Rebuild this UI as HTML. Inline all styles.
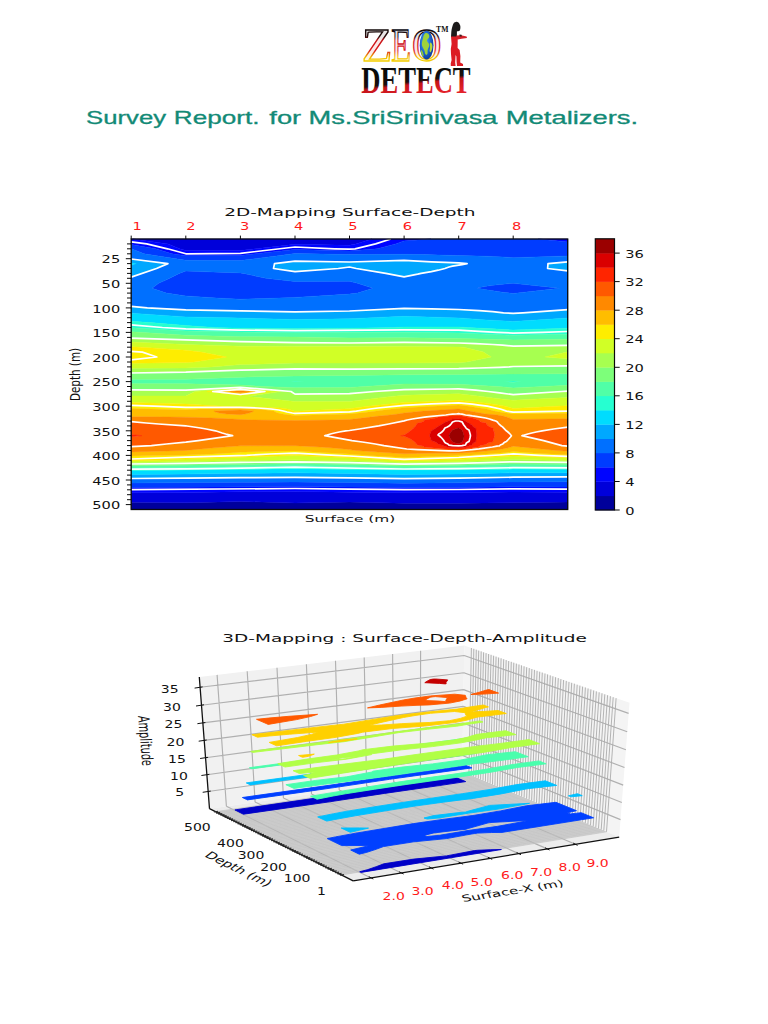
<!DOCTYPE html>
<html><head><meta charset="utf-8"><title>Survey Report</title>
<style>html,body{margin:0;padding:0;background:#fff}body{width:768px;height:1024px;overflow:hidden}svg{display:block}</style>
</head><body>
<svg width="768" height="1024" viewBox="0 0 768 1024">
<rect width="768" height="1024" fill="#fff"/>

<defs>
<linearGradient id="gz" x1="0" y1="29.6" x2="0" y2="61.3" gradientUnits="userSpaceOnUse"><stop offset="0" stop-color="#120a0a"/><stop offset="0.22" stop-color="#2a0c0c"/><stop offset="0.34" stop-color="#c81418"/><stop offset="0.66" stop-color="#dc1c1c"/><stop offset="0.78" stop-color="#e8780c"/><stop offset="0.88" stop-color="#f0c000"/><stop offset="1" stop-color="#f4d000"/></linearGradient>
<linearGradient id="gd" x1="414.5" y1="70" x2="417.5" y2="95" gradientUnits="userSpaceOnUse"><stop offset="0" stop-color="#0a0a0a"/><stop offset="0.44" stop-color="#1a0e0e"/><stop offset="0.56" stop-color="#c41218"/><stop offset="1" stop-color="#e2222a"/></linearGradient>
<radialGradient id="gg" cx="0.42" cy="0.4" r="0.7"><stop offset="0" stop-color="#5ab0f4"/><stop offset="0.55" stop-color="#1a64d0"/><stop offset="1" stop-color="#0a2c80"/></radialGradient>
</defs>
<g font-family="Liberation Serif, DejaVu Serif, serif">
<text y="60.9" font-size="46.5" fill="url(#gz)" fill-opacity="0.10" stroke="url(#gz)" stroke-width="1.3"><tspan x="361.8" textLength="30.6" lengthAdjust="spacingAndGlyphs">Z</tspan><tspan x="391.2" textLength="19.8" lengthAdjust="spacingAndGlyphs">E</tspan><tspan x="411.9" textLength="29.4" lengthAdjust="spacingAndGlyphs">O</tspan></text>
<ellipse cx="426.6" cy="45.2" rx="6.9" ry="14.2" fill="url(#gg)"/>
<path d="M425.2,33.2c1.8,-0.8 3.6,0.4 4,2.4c0.4,1.8 -0.6,3 -1.8,3.8c-1,0.8 -0.4,2 0.6,3c1.2,1.2 1.6,3.2 0.6,5c-0.8,1.4 -1.2,3 -1,4.8c0.2,1.8 -0.8,3.2 -1.8,2.4c-1,-0.8 -0.8,-2.6 -1.4,-4.2c-0.6,-1.8 -2,-3 -2.4,-5c-0.4,-2.2 0.2,-4.2 0.8,-6.2c0.4,-1.6 0.8,-5 2.4,-6z" fill="#9ed23c"/>
<path d="M430.4,42.5c1.2,0.2 2,1.8 2,3.8c0,2 -0.6,4 -1.4,5.4c-0.6,1 -1.4,0.6 -1.4,-0.6c0,-1.6 0.6,-2.8 0.4,-4.4c-0.2,-1.6 -0.4,-4.2 0.4,-4.2z" fill="#b4d83c"/>
<path d="M421.4,50c0.8,0.6 1.6,2.2 2,4c0.4,1.6 0.2,3 -0.4,2.6c-0.8,-0.6 -1.4,-2 -1.8,-3.6c-0.3,-1.4 -0.3,-3 0.2,-3z" fill="#8cc63a"/>
<text x="436" y="32.3" font-size="8.4" font-weight="bold" fill="#111" textLength="12.4" lengthAdjust="spacingAndGlyphs">TM</text>
<text x="361.2" y="93.4" font-size="37" font-weight="bold" fill="url(#gd)" textLength="109.4" lengthAdjust="spacingAndGlyphs">DETECT</text>
</g>
<path fill="#1c1a1a" d="M455.8,21.9C457.6,21.6 459.2,22.6 459.6,24.2C460.7,25.4 460.7,28.6 459.8,30.4C458.8,31.3 457.6,30.9 456.9,31.5L456.9,36.9L451,36.9L451.3,32C451.6,29 452.4,26.4 453,24.6C453.4,23 454.4,22.1 455.8,21.9Z"/>
<path fill="#dc1c24" d="M451,36.6L456.9,36.6L457.7,40L457.6,48L459.6,50L460.4,56L460.2,62.4L463,64L463.1,65.9L457,66L456.6,62L456.4,56.5L455.6,55L455.2,62.4L455.6,65.9L450.8,66L450.7,63.6L451.6,60L451,54L450.8,49L451.6,44Z"/>
<path fill="#d4202a" d="M456.4,35.5L461,35.2L466.6,36.4L467,38L461.5,38.7L456.6,39.8Z"/>
<path fill="#3a1c1c" d="M459.4,34.5l2.2,0.2l0.2,1.8l-2.2,0z"/>

<text y="124.0" font-size="18.1" fill="#128a76" stroke="#128a76" stroke-width="0.3" font-family="Liberation Sans, DejaVu Sans, sans-serif"><tspan x="86.1" textLength="80" lengthAdjust="spacingAndGlyphs">Survey</tspan> <tspan x="173.8" textLength="85.6" lengthAdjust="spacingAndGlyphs">Report.</tspan> <tspan x="269.3" textLength="31.9" lengthAdjust="spacingAndGlyphs">for</tspan> <tspan x="308.5" textLength="189" lengthAdjust="spacingAndGlyphs">Ms.SriSrinivasa</tspan> <tspan x="505.8" textLength="132.3" lengthAdjust="spacingAndGlyphs">Metalizers.</tspan></text>
<g shape-rendering="geometricPrecision">
<path fill="#00009b" stroke="#00009b" stroke-width="0.4" fill-rule="evenodd" d="M131.2,504.6 131.2,502.2 185.8,502.7 240.4,501.5 295,503 349.5,502.1 404.1,503.2 458.7,503.2 567.8,502.1 567.8,509.5 131.2,509.5Z"/>
<path fill="#0000da" stroke="#0000da" stroke-width="0.4" fill-rule="evenodd" d="M132.8,239 372,239 355.7,243.9 349.5,245.3 295,244.3 240.4,250.5 185.8,250.5 179.5,248.8 168.2,243.9ZM131.2,494.7 131.2,492.7 185.8,492.4 240.4,491.8 295,491.4 349.5,492.2 404.1,492.7 458.7,492.7 513.2,492 567.8,492.2 567.8,502.1 458.7,503.2 404.1,503.2 349.5,502.1 295,503 240.4,501.5 185.8,502.7 131.2,502.2Z"/>
<path fill="#0004ff" stroke="#0004ff" stroke-width="0.4" fill-rule="evenodd" d="M131.2,239 132.8,239 168.2,243.9 179.5,248.8 185.8,250.5 240.4,250.5 295,244.3 349.5,245.3 355.7,243.9 372,239 431,239 417.7,240.1 404.1,241 395.6,243.9 377.5,248.8 349.5,250.9 295,249.5 240.4,255.5 185.8,255.7 171.9,253.8 155.5,248.8 131.2,244.5ZM538.2,239 567.8,239 567.8,242ZM131.2,489.8 131.2,487.5 295,486.5 404.1,487.6 458.7,487.4 513.2,486.7 567.8,486.9 567.8,492.2 513.2,492 458.7,492.7 404.1,492.7 349.5,492.2 295,491.4 240.4,491.8 185.8,492.4 131.2,492.7Z"/>
<path fill="#003cff" stroke="#003cff" stroke-width="0.4" fill-rule="evenodd" d="M395.6,243.9 404.1,241 417.7,240.1 431,239 538.2,239 567.8,242 567.8,255.9 513.2,257.7 502.5,256.9 486,256.2 458.7,255.5 438.2,254.9 424.5,254.6 404.1,254.3 349.5,254.6 308.3,253.8 295,253.6 255.1,258.7 240.4,260.6 185.8,260.3 144.1,253.8 131.2,248.8 131.2,244.5 155.5,248.8 171.9,253.8 185.8,255.7 240.4,255.5 295,249.5 349.5,250.9 377.5,248.8ZM179.2,273.4 185.8,271.1 240.4,272.9 243.7,273.4 266.1,278.3 295,281.5 349.5,281.3 357.6,283.3 373.2,288.2 357.6,293.1 349.5,294.1 295,297.4 279,298 240.4,299.2 216.3,298 185.8,295.9 166.3,293.1 152,288.2 158.6,283.3 169.7,278.3ZM476.9,288.2 479.2,287.6 486,286.3 492.8,285.3 502.5,284.2 513.2,283.3 559.9,288.2 513.2,293.5 502.5,292.2 492.8,290.8 486,289.7ZM131.2,484.9 131.2,483 240.4,482.2 295,482 349.5,482.5 404.1,483.2 458.7,482.8 513.2,481.9 567.8,481.7 567.8,486.9 513.2,486.7 458.7,487.4 404.1,487.6 295,486.5 131.2,487.5Z"/>
<path fill="#0070ff" stroke="#0070ff" stroke-width="0.4" fill-rule="evenodd" d="M131.2,248.8 131.5,248.8 144.1,253.8 185.8,260.3 240.4,260.6 255.1,258.7 295,253.6 308.3,253.8 349.5,254.6 404.1,254.3 424.5,254.6 438.2,254.9 458.7,255.5 486,256.2 502.5,256.9 513.2,257.7 567.8,255.9 567.8,261.9 548,263.6 547.6,268.5 567.8,270.8 567.8,309.6 522.9,312.8 513.2,313.3 503.5,312.8 492.8,311.7 479.2,310.6 458.7,309.5 431.4,308.8 404.1,308.3 349.5,311 295,311.9 240.4,310.8 185.8,309.8 147.3,307.9 131.2,306.4 131.2,277.1 156.5,268.5 167.9,263.6 131.2,259ZM185.8,271.1 179.2,273.4 169.7,278.3 158.6,283.3 152,288.2 166.3,293.1 185.8,295.9 216.3,298 240.4,299.2 279,298 295,297.4 349.5,294.1 357.6,293.1 373.2,288.2 357.6,283.3 349.5,281.3 295,281.5 266.1,278.3 243.7,273.4 240.4,272.9ZM295,261.1 274.5,263.6 273.5,268.5 295,271.6 338.3,268.5 349.5,267 356.3,268.5 385.8,273.4 404.1,276.8 417.7,274.2 421.1,273.4 431.4,271.6 438.2,270.2 444.9,268.5 449,267 452.5,266.2 462,264.7 467.1,263.6 458.7,262.8 431.4,261.8 404.1,260.4 349.5,262ZM479.2,287.6 476.9,288.2 479.2,288.6 492.8,290.8 502.5,292.2 513.2,293.5 559.9,288.2 513.2,283.3 502.5,284.2 492.8,285.3 486,286.3ZM131.2,480 131.2,478.5 185.8,478.2 240.4,477.7 295,477.4 349.5,477.8 404.1,478.7 458.7,478.2 513.2,477.2 567.8,476.9 567.8,481.7 513.2,481.9 458.7,482.8 404.1,483.2 349.5,482.5 295,482 240.4,482.2 131.2,483Z"/>
<path fill="#00a8ff" stroke="#00a8ff" stroke-width="0.4" fill-rule="evenodd" d="M131.2,263 131.2,259 167.9,263.6 156.5,268.5 131.2,277.1 131.2,265.3 136.2,263.6ZM274.5,263.6 295,261.1 349.5,262 404.1,260.4 431.4,261.8 458.7,262.8 467.1,263.6 462,264.7 452.5,266.2 449,267 444.9,268.5 438.2,270.2 431.4,271.6 421.1,273.4 417.7,274.2 404.1,276.8 385.8,273.4 356.3,268.5 349.5,267 338.3,268.5 295,271.6 273.5,268.5ZM548,263.6 567.8,261.9 567.8,270.8 547.6,268.5ZM131.2,307.9 131.2,306.4 147.3,307.9 185.8,309.8 240.4,310.8 295,311.9 349.5,311 404.1,308.3 431.4,308.8 458.7,309.5 479.2,310.6 492.8,311.7 503.5,312.8 513.2,313.3 522.9,312.8 567.8,309.6 567.8,318 513.2,321.5 486,319.9 458.7,317.9 404.1,316.3 372.4,317.7 349.5,318.8 295,319.6 228.9,317.7 185.8,316.9 131.2,313.2ZM131.2,475.1 131.2,474.6 185.8,474.1 240.4,473.3 295,472.8 349.5,473.4 404.1,474.6 458.7,474 513.2,472.8 567.8,472.7 567.8,476.9 513.2,477.2 458.7,478.2 404.1,478.7 349.5,477.8 295,477.4 240.4,477.7 185.8,478.2 131.2,478.5Z"/>
<path fill="#00dcfe" stroke="#00dcfe" stroke-width="0.4" fill-rule="evenodd" d="M131.2,263.6 131.2,263 136.2,263.6 131.2,265.3ZM131.2,317.7 131.2,313.2 185.8,316.9 228.9,317.7 295,319.6 349.5,318.8 372.4,317.7 404.1,316.3 458.7,317.9 486,319.9 513.2,321.5 567.8,318 567.8,328.2 513.2,330 492.8,328.8 466.8,327.5 458.7,327 404.1,327.1 394.2,327.5 349.5,328.2 295,328.5 240.4,328.2 214.6,327.5 185.8,325.5 150.4,322.6 131.2,321.3ZM164.5,470.2 185.8,470.1 295,468.7 404.1,470 458.7,469.8 513.2,469.1 567.8,469.2 567.8,472.7 513.2,472.8 458.7,474 404.1,474.6 349.5,473.4 295,472.8 240.4,473.3 185.8,474.1 131.2,474.6 131.2,470.4Z"/>
<path fill="#26ffd1" stroke="#26ffd1" stroke-width="0.4" fill-rule="evenodd" d="M131.2,322.6 131.2,321.3 150.4,322.6 185.8,325.5 214.6,327.5 240.4,328.2 295,328.5 349.5,328.2 394.2,327.5 404.1,327.1 458.7,327 466.8,327.5 492.8,328.8 513.2,330 567.8,328.2 567.8,334.2 513.2,335.3 486,334.3 458.7,333.1 404.1,332.2 349.5,332.2 295,332.7 240.4,332.1 185.8,331 131.2,327.8ZM290.7,381.6 295,381.3 304.8,381.6 295,382ZM503.3,381.6 513.2,380.9 521.5,381.6 513.2,382.2ZM131.2,470.2 131.2,468 185.8,467.6 240.4,466.8 295,465.5 404.1,468 458.7,467.5 513.2,466.3 567.8,466.6 567.8,469.2 513.2,469.1 458.7,469.8 404.1,470 295,468.7 185.8,470.1 131.2,470.4Z"/>
<path fill="#50ffa7" stroke="#50ffa7" stroke-width="0.4" fill-rule="evenodd" d="M131.2,331.8 131.2,327.8 185.8,331 240.4,332.1 295,332.7 349.5,332.2 404.1,332.2 458.7,333.1 486,334.3 513.2,335.3 567.8,334.2 567.8,339.2 513.2,339.9 458.7,338.4 404.1,337.8 349.5,337.9 295,337 240.4,336.7 185.8,335.2ZM254.2,376.7 295,375.9 349.5,375.5 404.1,374.8 458.7,374.5 513.2,373.9 567.8,373.7 567.8,385.3 544,386.5 513.2,387.9 497.4,386.5 458.7,384.3 404.1,384 349.5,387.5 295,387.7 263,386.5 240.4,385.1 185.8,383.8 131.2,383.7 131.2,379.3 185.8,379.3ZM295,381.3 290.7,381.6 295,382 304.8,381.6ZM506.4,381.4 503.3,381.6 513.2,382.2 521.5,381.6 513.2,380.9ZM174.3,465.2 240.4,464.5 295,463.6 349.5,464.5 404.1,465.9 458.7,465.2 486,464.6 513.2,463.9 567.8,464.3 567.8,466.6 513.2,466.3 458.7,467.5 404.1,468 295,465.5 240.4,466.8 185.8,467.6 131.2,468 131.2,465.8Z"/>
<path fill="#7dff7a" stroke="#7dff7a" stroke-width="0.4" fill-rule="evenodd" d="M131.2,332.4 131.2,331.8 185.8,335.2 240.4,336.7 295,337 349.5,337.9 404.1,337.8 458.7,338.4 513.2,339.9 567.8,339.2 567.8,345.3 513.2,346.1 502.5,345.1 492.8,344.5 475.7,343.6 458.7,343 404.1,342.4 349.5,343 295,342.6 240.4,341.6 131.2,338.2ZM509.2,366.9 513.2,366.5 567.8,365.9 567.8,373.7 513.2,373.9 458.7,374.5 404.1,374.8 349.5,375.5 295,375.9 254.2,376.7 185.8,379.3 131.2,379.3 131.2,373 185.8,372.1 191.3,371.8 240.4,370.2 295,368.9 349.5,369.2 458.7,368.6 486,367.8ZM131.2,386.5 131.2,383.7 185.8,383.8 240.4,385.1 263,386.5 295,387.7 349.5,387.5 404.1,384 458.7,384.3 497.4,386.5 513.2,387.9 544,386.5 567.8,385.3 567.8,391.1 561.6,391.5 513.2,394.7 499.6,392.8 488.3,391.5 475.7,390.2 458.7,388.9 449,389 404.1,389.6 374.5,391.5 349.5,393.6 295,394.1 291,391.5 240.4,387.3 185.8,390.1 131.2,389.8ZM131.2,465.2 131.2,464 185.8,463.3 240.4,462.4 295,461.8 349.5,462.6 404.1,464.1 458.7,463.4 486,462.7 513.2,461.8 567.8,462.4 567.8,464.3 513.2,463.9 486,464.6 458.7,465.2 404.1,465.9 349.5,464.5 295,463.6 240.4,464.5 131.2,465.8Z"/>
<path fill="#a7ff50" stroke="#a7ff50" stroke-width="0.4" fill-rule="evenodd" d="M131.2,342.1 131.2,338.2 240.4,341.6 295,342.6 349.5,343 404.1,342.4 458.7,343 475.7,343.6 492.8,344.5 502.5,345.1 513.2,346.1 567.8,345.3 567.8,352.1 567,352.1 544.9,357 567.8,358.8 567.8,365.9 513.2,366.5 509.2,366.9 499.6,367.3 479.2,368 458.7,368.6 349.5,369.2 295,368.9 240.4,370.2 191.3,371.8 185.8,372.1 131.2,373 131.2,368.2 185.8,368 211.6,366.9 240.4,364.6 295,363 404.1,363 458.7,362.7 466.6,362 491.3,357 486,353.8 483.5,352.1 463.8,347.2 458.7,346.9 404.1,346.6 295,346.6 240.4,346.2 185.8,344.5ZM131.2,391.5 131.2,389.8 185.8,390.1 240.4,387.3 291,391.5 295,394.1 349.5,393.6 374.5,391.5 404.1,389.6 458.7,388.9 472.3,389.9 486,391.2 499.6,392.8 513.2,394.7 561.6,391.5 567.8,391.1 567.8,397.5 513.2,400.3 497,398.5 475.7,395.7 458.7,393.7 404.1,395.3 391.3,396.4 349.5,401.4 295,401.5 247.4,396.4 280.5,391.5 240.4,388.1 195.1,391.5 185.8,396 131.2,396ZM255.4,460.3 295,459.7 315.8,460.3 349.5,460.7 404.1,462.4 458.7,461.7 497.4,460.3 513.2,459.3 553.7,460.3 567.8,460.5 567.8,462.4 513.2,461.8 486,462.7 458.7,463.4 404.1,464.1 349.5,462.6 295,461.8 240.4,462.4 185.8,463.3 131.2,464 131.2,462.4 185.8,461.5 240.4,460.4Z"/>
<path fill="#d1ff26" stroke="#d1ff26" stroke-width="0.4" fill-rule="evenodd" d="M131.2,342.3 131.2,342.1 185.8,344.5 240.4,346.2 295,346.6 404.1,346.6 458.7,346.9 463.8,347.2 483.5,352.1 486,353.8 491.3,357 466.6,362 458.7,362.7 404.1,363 295,363 240.4,364.6 211.6,366.9 185.8,368 131.2,368.2 131.2,363.3 185.8,362.6 194,362 226.7,357 201,352.1 185.8,350.2 141.4,347.2 131.2,346.8ZM567,352.1 567.8,352.1 567.8,358.8 544.9,357ZM195.1,391.5 240.4,388.1 280.5,391.5 247.4,396.4 295,401.5 349.5,401.4 391.3,396.4 404.1,395.3 458.7,393.7 475.7,395.7 497,398.5 513.2,400.3 567.8,397.5 567.8,405.7 556.8,406.2 513.2,408.6 511.4,408 505.2,406.2 497,404.7 486,403.2 475.7,402.1 466.3,401.3 458.7,400.3 439.6,401.3 404.1,402.6 368.5,406.2 354.8,408 349.5,408.8 320.8,410 302.1,411.1 295,411.3 294,411.1 291.2,410 287.3,409 280.3,408 240.4,406.4 223.4,406.2 185.8,404.1 131.2,402.6 131.2,396 185.8,396ZM240.4,389 206.8,391.5 240.4,395.2 270.1,391.5ZM291.8,455.4 295,455.2 308.6,456 349.5,457.7 392.4,460.3 404.1,460.7 430.9,460.3 458.7,459.5 486,457.6 513.2,456 567.8,457.8 567.8,460.5 553.7,460.3 513.2,459.3 497.4,460.3 458.7,461.7 404.1,462.4 349.5,460.7 315.8,460.3 295,459.7 255.4,460.3 240.4,460.4 185.8,461.5 131.2,462.4 131.2,460.7 156.3,460.3 185.8,459.1 278.2,456Z"/>
<path fill="#feed00" stroke="#feed00" stroke-width="0.4" fill-rule="evenodd" d="M131.2,347.2 131.2,346.8 141.4,347.2 185.8,350.2 201,352.1 226.7,357 194,362 185.8,362.6 131.2,363.3ZM206.8,391.5 240.4,389 270.1,391.5 240.4,395.2ZM240.4,389.9 218.6,391.5 240.4,393.9 259.7,391.5ZM439.6,401.3 458.7,400.3 466.3,401.3 475.7,402.1 486,403.2 497,404.7 505.2,406.2 511.4,408 513.2,408.6 556.8,406.2 567.8,405.7 567.8,413.2 513.2,414.1 502.5,412.5 494.2,411.1 486.7,409 479.9,408 469.1,406.2 458.7,405 404.1,407.7 391.7,409 368.5,412 359.2,413 349.5,413.9 295,415.4 290.1,415 282.3,414 278,413 275.4,412 273.8,411.1 265.9,410 254.9,409 240.4,408.2 199,409 185.8,409.7 150.2,409 131.2,408.5 131.2,402.6 185.8,404.1 223.4,406.2 240.4,406.4 280.3,408 287.3,409 291.2,410 294,411.1 295,411.3 302.1,411.1 320.8,410 349.5,408.8 354.8,408 368.5,406.2 404.1,402.6ZM286.6,451 295,450.9 349.5,454.1 367.9,455.4 404.1,457.6 447.1,456 455.5,455.8 458.7,455.5 462,455.4 475.7,454.7 486.7,454 497,453.2 506.4,452.4 513.2,451.5 533.9,453 551,454 567.8,454.8 567.8,457.8 513.2,456 486,457.6 458.7,459.5 430.9,460.3 404.1,460.7 392.4,460.3 349.5,457.7 308.6,456 295,455.2 278.2,456 185.8,459.1 156.3,460.3 131.2,460.7 131.2,456.1 185.8,455.1 212.2,454 229.6,453 240.4,452.2 245,452Z"/>
<path fill="#ffbd00" stroke="#ffbd00" stroke-width="0.4" fill-rule="evenodd" d="M218.6,391.5 240.4,389.9 259.7,391.5 240.4,393.9ZM240.4,390.7 230.4,391.5 240.4,392.6 249.3,391.5ZM433,406.2 458.7,405 469.1,406.2 479.9,408 486.7,409 494.2,411.1 502.5,412.5 513.2,414.1 567.8,413.2 567.8,418.7 513.2,419.6 509.3,418 503.5,416.1 497.3,415 492.8,414.5 486,414 474.6,412 462,409.5 458.7,408.9 423.4,411.1 413.8,412 404.1,413 397.9,414 390,415 379.1,416.1 349.5,419.6 332.6,420 295,420.6 253.8,420 240.4,419.5 232.7,419 211.5,418 185.8,417.2 168.3,417 131.2,416.8 131.2,408.5 150.2,409 185.8,409.7 199,409 240.4,408.2 254.9,409 265.9,410 273.8,411.1 275.4,412 278,413 282.3,414 290.1,415 295,415.4 349.5,413.9 359.2,413 368.5,412 391.7,409 404.1,407.7ZM240.4,410 213.9,411.1 215.7,412 219.1,413 226.6,414 240.4,414.7 245,414 249.3,413 251.9,412 253.5,411.1ZM237.2,446 240.4,445.8 295,445.7 319.6,447 333.2,448 344,449 349.5,449.6 355.6,450.5 404.1,453.8 417.7,453.4 431.4,453.3 445,453.2 455.5,453.3 458.7,452.9 462,453 479.2,451.7 499.6,449.5 502.5,448.9 507.4,448 513.2,446.2 556.4,450.5 567.8,451.2 567.8,454.8 551,454 533.9,453 513.2,451.5 506.4,452.4 497,453.2 486.7,454 475.7,454.7 462,455.4 458.7,455.5 455.5,455.8 447.1,456 404.1,457.6 367.9,455.4 349.5,454.1 295,450.9 286.6,451 245,452 240.4,452.2 229.6,453 212.2,454 185.8,455.1 131.2,456.1 131.2,451.9 167.5,451 185.8,450.4 211.7,448Z"/>
<path fill="#ff8900" stroke="#ff8900" stroke-width="0.4" fill-rule="evenodd" d="M230.4,391.5 240.4,390.7 249.3,391.5 240.4,392.6ZM457.2,409 459.2,409 474.6,412 486,414 492.8,414.5 497.3,415 503.2,416 506.4,417 509.3,418 513.2,419.6 567.8,418.7 567.8,427.2 553.6,429 542.2,430.8 536.2,432 531.8,433 527.8,434 521.9,435.7 543.6,440.6 561.9,445.6 567.8,446.2 567.8,451.2 556.4,450.5 513.2,446.2 507.4,448 502.5,448.9 499.6,449.5 479.2,451.7 462,453 458.7,452.9 455.5,453.3 445,453.2 431.4,453.3 417.7,453.4 404.1,453.8 355.6,450.5 349.5,449.6 344,449 333.2,448 319.6,447 295,445.7 240.4,445.8 211.7,448 185.8,450.4 167.5,451 131.2,451.9 131.2,446.7 151.4,445.6 166.5,444 185.8,442.2 198.2,440.6 232.6,435.7 225.7,434 222.2,433 215.4,430.8 206.2,429 200.5,428 187,426 185.8,425.8 158.6,424 146.2,423 131.2,421.6 131.2,416.8 168.3,417 185.8,417.2 211.5,418 232.7,419 240.4,419.5 253.8,420 295,420.6 332.6,420 349.5,419.6 379.1,416.1 390,415 397.9,414 404.1,413 413.8,412 423.4,411.1ZM458.7,413.7 456.3,414 452.5,414.2 449,414.5 445.8,415 431.4,416.3 424.5,417.2 412.2,419 407.2,420 404.1,420.9 388.7,424 378.7,425.9 359.4,429 349.5,430.5 345.8,430.8 339.2,432 334.6,433 330.5,434 324.7,435.7 352,440.6 362.3,442 369.1,443 375.3,444 384,445.6 406.8,449 417.7,449.6 424.5,449.9 449,450.8 458.7,451 475.7,449.4 479.2,448.9 492.4,447 497,446.1 498.3,446 499.6,445.8 500.3,445 502.8,444 503.6,443 505.1,442 506.4,441.4 506.9,441 510.5,437 511.3,436 511.4,435.7 510,434 509,433 507.9,432 506.3,430.8 502.5,426.9 501.2,426 499.6,424.7 498.1,423 497.4,422 497,421.7 495.8,421 492.8,420.1 489.6,419 485.7,418 475.7,416.3 472.3,415.9 469,415.3 465.5,415 462,414.2 460.1,414ZM239.8,410 240.6,410 253.5,411.1 251.9,412 249.3,413 245,414 240.4,414.7 226.6,414 219.1,413 215.7,412 213.9,411.1Z"/>
<path fill="#ff5900" stroke="#ff5900" stroke-width="0.4" fill-rule="evenodd" d="M456.3,414 458.7,413.7 460.1,414 462,414.2 465.5,415 469,415.3 472.3,415.9 475.7,416.3 485.7,418 489.6,419 492.8,420.1 495.8,421 497,421.7 497.4,422 498.1,423 499.6,424.7 501.2,426 502.5,426.9 506.3,430.8 507.9,432 509,433 510,434 511.4,435.7 511.3,436 510.5,437 506.9,441 506.4,441.4 505.1,442 503.6,443 502.8,444 500.3,445 499.6,445.8 498.3,446 497,446.1 492.4,447 479.2,448.9 472.3,449.7 469,450 458.7,451 449,450.8 424.5,449.9 417.7,449.6 406.8,449 384,445.6 375.3,444 369.1,443 362.3,442 352,440.6 324.7,435.7 330.5,434 334.6,433 339.2,432 345.8,430.8 349.5,430.5 359.4,429 378.7,425.9 388.7,424 404.1,420.9 407.2,420 412.2,419 424.5,417.2 431.4,416.3 445.8,415 449,414.5 452.5,414.2ZM452.5,415.9 449,416 445,416.7 438.2,417 435.9,418 430.6,419 424.5,420 424,421 422.6,422 417.6,423 415.5,425.9 413.6,428 411.4,430 407.4,433 404.1,435 400.7,435.7 404.1,436.3 406.2,437 408.5,438 410.5,439 413,440.6 415.6,443 417.4,445 417.7,445.2 422.9,446 424.3,447 424.5,447 433.9,448 438.2,448.2 445,448.9 449,449 465.5,449 469,448.3 472,448 475.7,447.2 478,447 479.2,446.4 480.3,445.6 486,444.5 487.8,443 492.8,441.8 493.7,439 494.6,435 494.5,434 494.3,433 493.5,430 492.8,427.9 490.2,427 488.4,426 487.3,425 486.5,424 486,423 480.9,422 478.6,420 475.9,419 472.4,418 469,417.6 462,416 458.7,415.4ZM131.2,422 131.2,421.6 146.2,423 158.6,424 185.8,425.8 187,426 200.5,428 206.2,429 215.4,430.8 222.2,433 225.7,434 232.6,435.7 198.2,440.6 185.8,442.2 166.5,444 151.4,445.6 131.2,446.7 131.2,436.7 141.9,435.7 131.2,434.4ZM561,428 567.8,427.2 567.8,446.2 561.9,445.6 543.6,440.6 521.9,435.7 527.8,434 531.8,433 541.1,431 553.6,429Z"/>
<path fill="#ff2500" stroke="#ff2500" stroke-width="0.4" fill-rule="evenodd" d="M449.1,416 452.5,415.9 458.7,415.4 462,416 469,417.6 472.4,418 475.7,418.9 478.6,420 480.9,422 486,423 486.5,424 487.3,425 488.4,426 490.2,427 492.8,427.9 492.9,428 494.3,433 494.5,434 494.6,435 493.7,439 492.8,441.8 487.8,443 486,444.5 480.3,445.6 479.2,446.4 478,447 475.7,447.2 472,448 469,448.3 465.5,449 449,449 445,448.9 438.2,448.2 433.9,448 424.5,447 424.3,447 422.9,446 417.7,445.2 417.4,445 415.6,443 413.5,441 412.1,440 410.5,439 408.5,438 406.2,437 404.1,436.3 400.7,435.7 404.1,435 407.4,433 411.4,430 413.6,428 415.5,425.9 417.6,423 422.6,422 424,421 424.5,420 430.6,419 435.9,418 438.2,417 445,416.7ZM452.5,419 449,420.7 445,422.3 442.3,424 438.8,426 434.4,429 431.4,430.7 430,434 429.6,435.7 431.4,440.6 435.5,442 437.1,443 438.1,444 441.7,445 444.2,446 447.4,447 449,447.4 462,447.4 465.5,447 468.9,446 469.6,445.6 471.9,445 472.3,444.6 472.5,444 473.3,443 475.7,442.1 476.7,435 476.5,433 475.7,427.9 473.6,427 472.6,426 472.1,425 470.2,424 469.2,423 466.8,422 465.5,421 462,419.3 458.7,418.8 455.5,418.7ZM131.2,435 131.2,434.4 141.9,435.7 131.2,436.7Z"/>
<path fill="#da0000" stroke="#da0000" stroke-width="0.4" fill-rule="evenodd" d="M452.5,419 455.5,418.7 458.7,418.8 462,419.3 465.5,421 466.8,422 469.2,423 470.2,424 472.1,425 472.6,426 473.6,427 475.7,427.9 476.5,433 476.7,435 475.7,442.1 473.3,443 472.5,444 472.3,444.6 471.9,445 469.6,445.6 468.9,446 465.5,447 462,447.4 449,447.4 447.4,447 444.2,446 441.7,445 438.1,444 437.1,443 435.5,442 431.4,440.6 429.6,435.7 430,434 431.4,430.7 434.4,429 438.8,426 442.3,424 445,422.3 449,420.7ZM458.7,427.9 455.5,428.7 452.5,430.1 450.9,432 450.2,433 449.1,435 449,435.7 449.6,437 450.5,439 451.6,440.6 452.5,441.8 455.7,443 458.7,443.5 460.2,443 462,442.3 462.2,442 462.9,440.6 463.5,439 464,437 464.1,436 463.3,433 462.9,432 462,430.1 460.7,429Z"/>
<path fill="#9b0000" stroke="#9b0000" stroke-width="0.4" fill-rule="evenodd" d="M458.1,428 458.7,427.9 460.7,429 462,430.1 462.9,432 463.3,433 464.1,436 464,437 463.5,439 462.9,440.6 462.2,442 462,442.3 460.2,443 458.7,443.5 455.7,443 452.5,441.8 451.6,440.6 450.5,439 449.6,437 449,435.7 449.1,435 450.2,433 450.9,432 452.5,430.1 455.5,428.7Z"/>
<path fill="none" stroke="#fff" stroke-width="1.7" stroke-linejoin="round" d="M131.2,241.8 146.7,243.9 167.5,248.8 185.8,253.8 240.4,253.3 295,247 334.6,248.8 349.5,249.2 355,248.8 375.6,243.9 390.8,239M567.8,489.2 513.2,488.9 458.7,489.5 404.1,489.7 349.5,489.2 295,488.5 131.2,489.6M131.2,259 167.9,263.6 156.5,268.5 131.2,277.1M274.5,263.6 295,261.1 349.5,262 404.1,260.4 431.4,261.8 458.7,262.8 467.1,263.6 462,264.7 452.5,266.2 449,267 444.9,268.5 438.2,270.2 431.4,271.6 421.1,273.4 417.7,274.2 404.1,276.8 385.8,273.4 356.3,268.5 349.5,267 338.3,268.5 295,271.6 273.5,268.5ZM567.8,270.8 547.6,268.5 548,263.6 567.8,261.9M131.2,306.4 147.3,307.9 185.8,309.8 240.4,310.8 295,311.9 349.5,311 404.1,308.3 431.4,308.8 458.7,309.5 479.2,310.6 492.8,311.7 503.5,312.8 513.2,313.3 522.9,312.8 567.8,309.6M567.8,476.9 513.2,477.2 458.7,478.2 404.1,478.7 349.5,477.8 295,477.4 240.4,477.7 185.8,478.2 131.2,478.5M131.2,324.9 162.4,327.5 185.8,328.9 240.4,330.1 295,330.6 404.1,329.8 458.7,330.1 479.2,331.3 496.9,332.4 513.2,333.1 542.4,332.4 567.8,331.5M567.8,467.9 513.2,467.7 458.7,468.7 404.1,469 295,467.1 240.4,468.1 185.8,468.8 131.2,469.2M131.2,338.2 240.4,341.6 295,342.6 349.5,343 404.1,342.4 458.7,343 475.7,343.6 492.8,344.5 502.5,345.1 513.2,346.1 567.8,345.3M567.8,365.9 513.2,366.5 509.2,366.9 499.6,367.3 479.2,368 458.7,368.6 349.5,369.2 295,368.9 240.4,370.2 191.3,371.8 185.8,372.1 131.2,373M131.2,389.8 185.8,390.1 240.4,387.3 291,391.5 295,394.1 349.5,393.6 374.5,391.5 404.1,389.6 449,389 458.7,388.9 475.7,390.2 488.3,391.5 499.6,392.8 513.2,394.7 561.6,391.5 567.8,391.1M567.8,462.4 513.2,461.8 486,462.7 458.7,463.4 404.1,464.1 349.5,462.6 295,461.8 240.4,462.4 185.8,463.3 131.2,464M131.2,351.4 142.4,352.1 156.8,357 131.2,359.9M212.7,391.5 240.4,389.4 264.9,391.5 240.4,394.5ZM131.2,405.3 154,406.2 185.8,407.3 240.4,407.3 257.7,408 271.1,409 278.6,410 283.3,411 287.1,412 292.4,413 295,413.4 349.5,411.9 356.3,411.1 363.2,410 370.1,409 377.9,408 404.1,405.3 431.4,403.9 458.7,402.9 472.3,404.2 479.2,405.1 487.2,406.2 500.4,409 506.5,411.1 513.2,412.2 567.8,411.1M567.8,456.4 539.6,455.4 513.2,453.9 499.1,455 475.7,456.4 458.7,457.5 404.1,459.3 349.5,456 335.4,455.4 295,453.1 270.1,454 252.2,455 246.6,455.4 185.8,457.1 131.2,459M456.3,414 458.7,413.7 460.1,414 462,414.2 465.5,415 469,415.3 472.3,415.9 475.7,416.3 485.7,418 489.6,419 492.8,420.1 495.8,421 497,421.7 497.4,422 498.1,423 499.6,424.7 501.2,426 502.5,426.9 506.3,430.8 507.9,432 509,433 510,434 511.4,435.7 511.3,436 510.5,437 506.9,441 506.4,441.4 505.1,442 503.6,443 502.8,444 500.3,445 499.6,445.8 498.3,446 497,446.1 492.4,447 479.2,448.9 472.3,449.7 469,450 458.7,451 449,450.8 424.5,449.9 417.7,449.6 406.8,449 384,445.6 375.3,444 369.1,443 362.3,442 352,440.6 324.7,435.7 330.5,434 334.6,433 339.2,432 345.8,430.8 349.5,430.5 359.4,429 378.7,425.9 388.7,424 404.1,420.9 407.2,420 412.2,419 424.5,417.2 431.4,416.3 445.8,415 449,414.5 452.5,414.2ZM131.2,421.6 146.2,423 158.6,424 185.8,425.8 187,426 200.5,428 206.2,429 215.4,430.8 222.2,433 225.7,434 232.6,435.7 198.2,440.6 185.8,442.2 166.5,444 151.4,445.6 131.2,446.7M567.8,446.2 561.9,445.6 543.6,440.6 521.9,435.7 527.8,434 531.8,433 536.2,432 542.2,430.8 553.6,429 567.8,427.2M452.5,422 455.5,421 458.7,421 462,421.9 462.1,422 463.8,425 465.4,427 465.5,427.3 466,428 467,429 469,430 470.4,435 470.4,436 470,438 469.2,441 469,441.4 467.9,442 466.4,443 465.9,444 465.5,445 462,445.7 458.7,445.8 452.5,445.7 449,445.1 447.9,444 445.7,443 445,442.5 444.6,442 443.4,440 441.7,438 440.7,437 439.5,436 438,435 438.8,434 440.5,433 441.8,432 442.9,431 443.7,430 444.9,428 447.3,427 449,426 450.2,425 451.1,424Z"/>
</g>
<rect x="131.2" y="239" width="436.5" height="270.5" fill="none" stroke="#0a0a0a" stroke-width="1.3"/>
<path d="M131.2,239V235.6M185.8,239V235.6M240.4,239V235.6M295,239V235.6M349.5,239V235.6M404.1,239V235.6M458.7,239V235.6M513.2,239V235.6M131.2,243.9H127M131.2,248.8H127M131.2,253.8H127M131.2,258.7H125.8M131.2,263.6H127M131.2,268.5H127M131.2,273.4H127M131.2,278.3H127M131.2,283.3H125.8M131.2,288.2H127M131.2,293.1H127M131.2,298H127M131.2,302.9H127M131.2,307.9H125.8M131.2,312.8H127M131.2,317.7H127M131.2,322.6H127M131.2,327.5H127M131.2,332.4H125.8M131.2,337.4H127M131.2,342.3H127M131.2,347.2H127M131.2,352.1H127M131.2,357H125.8M131.2,362H127M131.2,366.9H127M131.2,371.8H127M131.2,376.7H127M131.2,381.6H125.8M131.2,386.5H127M131.2,391.5H127M131.2,396.4H127M131.2,401.3H127M131.2,406.2H125.8M131.2,411.1H127M131.2,416.1H127M131.2,421H127M131.2,425.9H127M131.2,430.8H125.8M131.2,435.7H127M131.2,440.6H127M131.2,445.6H127M131.2,450.5H127M131.2,455.4H125.8M131.2,460.3H127M131.2,465.2H127M131.2,470.2H127M131.2,475.1H127M131.2,480H125.8M131.2,484.9H127M131.2,489.8H127M131.2,494.7H127M131.2,499.7H127M131.2,504.6H125.8" stroke="#0a0a0a" stroke-width="1" fill="none"/>
<text x="132.5" y="229.7" font-size="9.6" fill="#ff1a1a" font-family="DejaVu Sans, Liberation Sans, sans-serif" textLength="9.3" lengthAdjust="spacingAndGlyphs" >1</text>
<text x="186.3" y="229.7" font-size="9.6" fill="#ff1a1a" font-family="DejaVu Sans, Liberation Sans, sans-serif" textLength="9.3" lengthAdjust="spacingAndGlyphs" >2</text>
<text x="240" y="229.7" font-size="9.6" fill="#ff1a1a" font-family="DejaVu Sans, Liberation Sans, sans-serif" textLength="9.3" lengthAdjust="spacingAndGlyphs" >3</text>
<text x="294.1" y="229.7" font-size="9.6" fill="#ff1a1a" font-family="DejaVu Sans, Liberation Sans, sans-serif" textLength="9.3" lengthAdjust="spacingAndGlyphs" >4</text>
<text x="348.2" y="229.7" font-size="9.6" fill="#ff1a1a" font-family="DejaVu Sans, Liberation Sans, sans-serif" textLength="9.3" lengthAdjust="spacingAndGlyphs" >5</text>
<text x="402.7" y="229.7" font-size="9.6" fill="#ff1a1a" font-family="DejaVu Sans, Liberation Sans, sans-serif" textLength="9.3" lengthAdjust="spacingAndGlyphs" >6</text>
<text x="457.4" y="229.7" font-size="9.6" fill="#ff1a1a" font-family="DejaVu Sans, Liberation Sans, sans-serif" textLength="9.3" lengthAdjust="spacingAndGlyphs" >7</text>
<text x="512.1" y="229.7" font-size="9.6" fill="#ff1a1a" font-family="DejaVu Sans, Liberation Sans, sans-serif" textLength="9.3" lengthAdjust="spacingAndGlyphs" >8</text>
<text x="101.6" y="263.4" font-size="9.6" fill="#111" font-family="DejaVu Sans, Liberation Sans, sans-serif" textLength="18.6" lengthAdjust="spacingAndGlyphs" >25</text>
<text x="101.6" y="288" font-size="9.6" fill="#111" font-family="DejaVu Sans, Liberation Sans, sans-serif" textLength="18.6" lengthAdjust="spacingAndGlyphs" >50</text>
<text x="92.3" y="312.6" font-size="9.6" fill="#111" font-family="DejaVu Sans, Liberation Sans, sans-serif" textLength="27.9" lengthAdjust="spacingAndGlyphs" >100</text>
<text x="92.3" y="337.1" font-size="9.6" fill="#111" font-family="DejaVu Sans, Liberation Sans, sans-serif" textLength="27.9" lengthAdjust="spacingAndGlyphs" >150</text>
<text x="92.3" y="361.7" font-size="9.6" fill="#111" font-family="DejaVu Sans, Liberation Sans, sans-serif" textLength="27.9" lengthAdjust="spacingAndGlyphs" >200</text>
<text x="92.3" y="386.3" font-size="9.6" fill="#111" font-family="DejaVu Sans, Liberation Sans, sans-serif" textLength="27.9" lengthAdjust="spacingAndGlyphs" >250</text>
<text x="92.3" y="410.9" font-size="9.6" fill="#111" font-family="DejaVu Sans, Liberation Sans, sans-serif" textLength="27.9" lengthAdjust="spacingAndGlyphs" >300</text>
<text x="92.3" y="435.5" font-size="9.6" fill="#111" font-family="DejaVu Sans, Liberation Sans, sans-serif" textLength="27.9" lengthAdjust="spacingAndGlyphs" >350</text>
<text x="92.3" y="460.1" font-size="9.6" fill="#111" font-family="DejaVu Sans, Liberation Sans, sans-serif" textLength="27.9" lengthAdjust="spacingAndGlyphs" >400</text>
<text x="92.3" y="484.7" font-size="9.6" fill="#111" font-family="DejaVu Sans, Liberation Sans, sans-serif" textLength="27.9" lengthAdjust="spacingAndGlyphs" >450</text>
<text x="92.3" y="509.3" font-size="9.6" fill="#111" font-family="DejaVu Sans, Liberation Sans, sans-serif" textLength="27.9" lengthAdjust="spacingAndGlyphs" >500</text>
<text x="224.2" y="215.7" font-size="11.3" fill="#111" font-family="DejaVu Sans, Liberation Sans, sans-serif" textLength="251.4" lengthAdjust="spacingAndGlyphs" >2D-Mapping Surface-Depth</text>
<text x="304.8" y="521.5" font-size="9.4" fill="#111" font-family="DejaVu Sans, Liberation Sans, sans-serif" textLength="90.4" lengthAdjust="spacingAndGlyphs" >Surface (m)</text>
<text transform="translate(80.2,374.5) scale(1.3,1) rotate(-90)" text-anchor="middle" font-size="10.4" fill="#111" font-family="DejaVu Sans, Liberation Sans, sans-serif">Depth (m)</text>
<rect x="595.3" y="495.7" width="19.2" height="14.6" fill="#00009b"/>
<rect x="595.3" y="481.5" width="19.2" height="14.6" fill="#0000da"/>
<rect x="595.3" y="467.2" width="19.2" height="14.6" fill="#0004ff"/>
<rect x="595.3" y="452.9" width="19.2" height="14.6" fill="#003cff"/>
<rect x="595.3" y="438.6" width="19.2" height="14.6" fill="#0070ff"/>
<rect x="595.3" y="424.4" width="19.2" height="14.6" fill="#00a8ff"/>
<rect x="595.3" y="410.1" width="19.2" height="14.6" fill="#00dcfe"/>
<rect x="595.3" y="395.8" width="19.2" height="14.6" fill="#26ffd1"/>
<rect x="595.3" y="381.5" width="19.2" height="14.6" fill="#50ffa7"/>
<rect x="595.3" y="367.3" width="19.2" height="14.6" fill="#7dff7a"/>
<rect x="595.3" y="353" width="19.2" height="14.6" fill="#a7ff50"/>
<rect x="595.3" y="338.7" width="19.2" height="14.6" fill="#d1ff26"/>
<rect x="595.3" y="324.4" width="19.2" height="14.6" fill="#feed00"/>
<rect x="595.3" y="310.2" width="19.2" height="14.6" fill="#ffbd00"/>
<rect x="595.3" y="295.9" width="19.2" height="14.6" fill="#ff8900"/>
<rect x="595.3" y="281.6" width="19.2" height="14.6" fill="#ff5900"/>
<rect x="595.3" y="267.3" width="19.2" height="14.6" fill="#ff2500"/>
<rect x="595.3" y="253.1" width="19.2" height="14.6" fill="#da0000"/>
<rect x="595.3" y="238.8" width="19.2" height="14.6" fill="#9b0000"/>
<rect x="595.3" y="238.8" width="19.2" height="271.2" fill="none" stroke="#0a0a0a" stroke-width="1.2"/>
<text x="625.2" y="514.6" font-size="9.6" fill="#111" font-family="DejaVu Sans, Liberation Sans, sans-serif" textLength="9.3" lengthAdjust="spacingAndGlyphs" >0</text>
<text x="625.2" y="486.1" font-size="9.6" fill="#111" font-family="DejaVu Sans, Liberation Sans, sans-serif" textLength="9.3" lengthAdjust="spacingAndGlyphs" >4</text>
<text x="625.2" y="457.5" font-size="9.6" fill="#111" font-family="DejaVu Sans, Liberation Sans, sans-serif" textLength="9.3" lengthAdjust="spacingAndGlyphs" >8</text>
<text x="625.2" y="429" font-size="9.6" fill="#111" font-family="DejaVu Sans, Liberation Sans, sans-serif" textLength="18.6" lengthAdjust="spacingAndGlyphs" >12</text>
<text x="625.2" y="400.4" font-size="9.6" fill="#111" font-family="DejaVu Sans, Liberation Sans, sans-serif" textLength="18.6" lengthAdjust="spacingAndGlyphs" >16</text>
<text x="625.2" y="371.9" font-size="9.6" fill="#111" font-family="DejaVu Sans, Liberation Sans, sans-serif" textLength="18.6" lengthAdjust="spacingAndGlyphs" >20</text>
<text x="625.2" y="343.3" font-size="9.6" fill="#111" font-family="DejaVu Sans, Liberation Sans, sans-serif" textLength="18.6" lengthAdjust="spacingAndGlyphs" >24</text>
<text x="625.2" y="314.8" font-size="9.6" fill="#111" font-family="DejaVu Sans, Liberation Sans, sans-serif" textLength="18.6" lengthAdjust="spacingAndGlyphs" >28</text>
<text x="625.2" y="286.2" font-size="9.6" fill="#111" font-family="DejaVu Sans, Liberation Sans, sans-serif" textLength="18.6" lengthAdjust="spacingAndGlyphs" >32</text>
<text x="625.2" y="257.7" font-size="9.6" fill="#111" font-family="DejaVu Sans, Liberation Sans, sans-serif" textLength="18.6" lengthAdjust="spacingAndGlyphs" >36</text>
<path d="M614.5,510h5.2M614.5,481.5h5.2M614.5,452.9h5.2M614.5,424.4h5.2M614.5,395.8h5.2M614.5,367.3h5.2M614.5,338.7h5.2M614.5,310.2h5.2M614.5,281.6h5.2M614.5,253.1h5.2" stroke="#0a0a0a" stroke-width="1" fill="none"/>
<polygon points="199.3,677 209.5,808.7 462.2,772 464.3,645.6" fill="#f1f1f1"/>
<polygon points="464.3,645.6 462.2,772 619.2,837.1 629.5,702.8" fill="#f4f4f4"/>
<polygon points="209.5,808.7 353.2,880.8 619.2,837.1 462.2,772" fill="#ececec"/>
<polygon points="341.6,874.9 606.5,831.8 468.9,774.8 215.6,811.7" fill="#cfcfcf"/>
<path d="M371.1,877.9L226.4,806.2M226.4,806.2L217.1,674.9M401.4,872.9L255.1,802.1M255.1,802.1L247.2,671.3M431.3,868L283.4,797.9M283.4,797.9L277,667.8M460.8,863.1L311.5,793.9M311.5,793.9L306.4,664.3M490,858.3L339.2,789.9M339.2,789.9L335.5,660.8M518.8,853.6L366.6,785.9M366.6,785.9L364.2,657.4M547.3,848.9L393.7,781.9M393.7,781.9L392.6,654.1M575.4,844.3L420.4,778.1M420.4,778.1L420.6,650.7M208.2,791.5L462.5,755.5M462.5,755.5L620.5,819.6M206.9,774.7L462.8,739.3M462.8,739.3L621.8,802.5M205.6,757.7L463.1,723M463.1,723L623.2,785.1M204.2,740.4L463.3,706.4M463.3,706.4L624.5,767.5M202.9,722.9L463.6,689.6M463.6,689.6L625.9,749.7M201.5,705.2L463.9,672.7M463.9,672.7L627.2,731.7M200.1,687.3L464.2,655.5M464.2,655.5L628.6,713.4" stroke="#b0b0b0" stroke-width="1.15" fill="none"/>
<path d="M606.5,831.8L616.1,698.2M603.8,830.7L613.2,697.2M601.2,829.6L610.4,696.2M598.5,828.5L607.6,695.2M595.8,827.4L604.8,694.3M593.2,826.3L602,693.3M590.5,825.2L599.2,692.3M587.9,824.1L596.4,691.4M585.3,823L593.7,690.4M582.6,821.9L590.9,689.4M580,820.8L588.1,688.5M577.4,819.7L585.4,687.5M574.8,818.7L582.6,686.6M572.2,817.6L579.9,685.6M569.6,816.5L577.2,684.7M567,815.4L574.4,683.7M564.5,814.4L571.7,682.8M561.9,813.3L569,681.9M559.3,812.2L566.3,680.9M556.8,811.2L563.6,680M554.2,810.1L560.9,679.1M551.7,809.1L558.3,678.1M549.1,808L555.6,677.2M546.6,807L552.9,676.3M544.1,805.9L550.3,675.4M541.6,804.9L547.6,674.4M539,803.8L545,673.5M536.5,802.8L542.3,672.6M534,801.8L539.7,671.7M531.6,800.7L537.1,670.8M529.1,799.7L534.5,669.9M526.6,798.7L531.9,669M524.1,797.6L529.3,668.1M521.6,796.6L526.7,667.2M519.2,795.6L524.1,666.3M516.7,794.6L521.5,665.4M514.3,793.6L519,664.5M511.8,792.6L516.4,663.6M509.4,791.5L513.8,662.7M507,790.5L511.3,661.8M504.6,789.5L508.7,661M502.1,788.5L506.2,660.1M499.7,787.5L503.7,659.2M497.3,786.5L501.1,658.3M494.9,785.5L498.6,657.5M492.5,784.5L496.1,656.6M490.1,783.6L493.6,655.7M487.8,782.6L491.1,654.8M485.4,781.6L488.6,654M483,780.6L486.1,653.1M480.6,779.6L483.6,652.3M478.3,778.6L481.2,651.4M475.9,777.7L478.7,650.6M473.6,776.7L476.3,649.7M471.3,775.7L473.8,648.8M468.9,774.8L471.4,648" stroke="#ababab" stroke-width="0.9" fill="none"/>
<path d="M341.6,874.9L606.5,831.8M339.1,873.7L603.8,830.7M336.7,872.5L601.2,829.6M334.2,871.2L598.5,828.5M331.8,870L595.8,827.4M329.3,868.8L593.2,826.3M326.9,867.6L590.5,825.2M324.5,866.4L587.9,824.1M322.1,865.2L585.3,823M319.6,863.9L582.6,821.9M317.2,862.7L580,820.8M314.8,861.5L577.4,819.7M312.5,860.3L574.8,818.7M310.1,859.1L572.2,817.6M307.7,857.9L569.6,816.5M305.3,856.8L567,815.4M303,855.6L564.5,814.4M300.6,854.4L561.9,813.3M298.3,853.2L559.3,812.2M295.9,852L556.8,811.2M293.6,850.9L554.2,810.1M291.2,849.7L551.7,809.1M288.9,848.5L549.1,808M286.6,847.4L546.6,807M284.3,846.2L544.1,805.9M282,845L541.6,804.9M279.7,843.9L539,803.8M277.4,842.7L536.5,802.8M275.1,841.6L534,801.8M272.8,840.4L531.6,800.7M270.5,839.3L529.1,799.7M268.3,838.2L526.6,798.7M266,837L524.1,797.6M263.8,835.9L521.6,796.6M261.5,834.8L519.2,795.6M259.3,833.6L516.7,794.6M257,832.5L514.3,793.6M254.8,831.4L511.8,792.6M252.6,830.3L509.4,791.5M250.3,829.2L507,790.5M248.1,828.1L504.6,789.5M245.9,826.9L502.1,788.5M243.7,825.8L499.7,787.5M241.5,824.7L497.3,786.5M239.3,823.6L494.9,785.5M237.1,822.5L492.5,784.5M235,821.4L490.1,783.6M232.8,820.4L487.8,782.6M230.6,819.3L485.4,781.6M228.5,818.2L483,780.6M226.3,817.1L480.6,779.6M224.1,816L478.3,778.6M222,814.9L475.9,777.7M219.9,813.9L473.6,776.7M217.7,812.8L471.3,775.7M215.6,811.7L468.9,774.8" stroke="#c3c3c3" stroke-width="0.7" fill="none"/>
<path fill="#0000c8" stroke="#0000c8" stroke-width="0.9" stroke-linejoin="round" fill-rule="evenodd" d="M361.1,872.4 501.4,849.5 490.8,849.7 477.4,850.3 474.3,850.6 446.4,855.9 413.8,859.1 383.8,863.8 376.2,866.7 367.2,869.8 359.7,871.7ZM243.4,814.2 329.7,801.8 384.6,793.4 439.2,785.6 465.7,781.6 456.2,777.6 234.9,809.9Z"/>
<path fill="#0040ff" stroke="#0040ff" stroke-width="0.9" stroke-linejoin="round" fill-rule="evenodd" d="M358.2,853.7 359.3,854.2 366.9,852.3 376,849.3 383.6,846.5 413.8,841.8 446.6,838.6 467,834.8 474.7,833.5 477.8,833.1 491.3,832.5 502,832.4 593.6,817.8 581.2,812.7 570.3,813.9 567.4,812.8 576.5,810.7 555.9,802.3 526.4,805.8 500.5,810.9 472.9,815.5 442.9,819.4 413.5,823.6 355.6,833.2 335.4,836.9 327.3,838.6 341.7,845.6 360,845.5 368.8,845.7 350.7,850ZM439.3,835.3 427,836.5 424,835.4 433.9,832.9 458.7,830 465.4,829.4 468.2,828.5 489.1,822.6 528.8,820.4 524.8,821.3 497.6,826.3 468,830.5ZM246.7,799.6 247.3,799.9 305.7,791.7 334.2,787.6 389.6,779.3 471.9,767.9 466,765.4 439.4,769.4 384.4,777.1 329.1,785.3 242.4,797.5Z"/>
<path fill="#00c0ff" stroke="#00c0ff" stroke-width="0.9" stroke-linejoin="round" fill-rule="evenodd" d="M347.9,831.2 350.2,832.3 368.5,828.1 359.6,827.9 341.2,828ZM427.1,819 439.5,817.9 468.4,813.2 498.2,809.1 525.5,804.1 529.5,803.3 489.6,805.4 468.5,811.1 465.7,812 459,812.6 434.1,815.5 424,818ZM571.2,796.8 582.3,795.7 577.5,793.7 568.4,795.8ZM326,820.8 326.7,821.1 334.9,819.5 355.2,815.8 413.5,806.3 443.1,802.2 473.2,798.4 501,793.9 527.1,788.8 556.8,785.4 545.3,780.8 516.8,784.6 490.3,789.4 462.2,793.7 404.1,802.2 375,806.7 345.9,811.4 333.6,813.7 317.7,816.9ZM250,784.7 250.5,784.9 280,780.8 338.5,773 394,764.7 421.8,760.8 449.7,757.1 476.6,753.2 472.3,751.5 389.4,762.7 333.7,770.9 246.3,782.9Z"/>
<path fill="#49ffad" stroke="#49ffad" stroke-width="0.9" stroke-linejoin="round" fill-rule="evenodd" d="M315.7,798.6 317,799.2 333.1,796 345.4,793.8 374.7,789.2 404,784.8 462.5,776.5 490.8,772.2 517.4,767.5 546.1,763.8 538.9,760.9 510.7,764.8 484.2,769.5 456,773.8 427,777.8 398,782.1 369,786.7 310.5,796.2ZM498,760.8 500.2,760.6 528.2,756.7 515.3,751.7 485.9,754.9 474.8,757.3 460.9,760 432.4,763.9 401.9,767.1 372.7,771.2 371.9,772 346.7,776.8 315.8,780.4 285.9,784.7 293.9,788.4 324.4,784.3 355,780.4 385,776.5 413.9,772.3 471.1,764.2ZM251.2,768.5 251.7,768.8 340.4,757.1 368.6,753 396.1,748.8 424.4,745.1 452.7,741.6 479.7,737.7 477,736.6 449.9,740.4 421.8,744.1 393.8,747.8 338,756 279.1,763.7 249.4,767.7Z"/>
<path fill="#b1ff46" stroke="#b1ff46" stroke-width="0.9" stroke-linejoin="round" fill-rule="evenodd" d="M307.9,777.4 309.8,778.3 385.8,766.4 427.1,760.3 456.3,756.3 484.6,752.2 511.3,747.5 539.6,743.7 528.9,739.6 500.7,743.4 471.5,746.9 413.9,754.8 384.8,759 323.8,766.6 293.1,770.7 299.4,773.5 315,772.1 309.4,774.3 303.5,775.4ZM284.3,766.7 285.1,767 315.1,762.8 346.3,759.2 371.6,754.6 372.4,753.7 401.8,749.8 432.5,746.6 461.2,742.8 475.2,740.2 486.4,737.8 515.9,734.6 505.7,730.7 477.5,734.3 474.5,735 467.2,737.3 454.2,740 424.7,743.4 392.8,746.1 363.1,749.7 358.2,751 336.6,755 306.9,759.1 277.8,763.7ZM345.2,758.8 329.2,760.4 342.8,757.7 357.5,756.5ZM317.2,744.7 344.1,741.7 398.3,732.7 427.3,729.3 456.8,726.2 469.4,724.1 483,722 480,720.9 452.9,724.7 424.4,728.1 396,731.8 368.3,735.9 340,739.9 250.7,751.4 253,752.4Z"/>
<path fill="#ffd000" stroke="#ffd000" stroke-width="0.9" stroke-linejoin="round" fill-rule="evenodd" d="M302.3,757.2 302.7,757.3 308.6,756.3 314.3,754.1 298.6,755.5ZM328.6,742.6 344.8,741 357.2,738.8 342.3,740ZM276.4,745.7 276.8,745.8 306.2,741.4 336.1,737.3 357.8,733.4 362.7,732.2 392.6,728.5 424.7,726 454.4,722.6 467.5,720 474.8,717.7 477.9,717 506.3,713.5 498.1,710.5 483.3,711.5 470.5,711.9 479.1,709.5 485.8,707.4 488.5,706.9 483.4,705 469.7,707 457.1,709.1 427.3,712.1 398.2,715.4 343.6,724.2 316.6,727.2 251.9,734.7 257.5,737.2 269.2,736 289.7,734.2 318.3,732.1 311.3,734.4 297.6,737.5 269.2,742.4ZM449.4,720.7 429.2,722.5 417,722.9 401.2,723.7 381.4,725 367.8,725.6 379.9,722.7 403.4,717.5 415,715.5 430.5,713.3 454.4,711.5 465,712.7 465.8,715.1 466.8,716.2 460.3,718.4Z"/>
<path fill="#ff5900" stroke="#ff5900" stroke-width="0.9" stroke-linejoin="round" fill-rule="evenodd" d="M429.3,704.9 449.6,703.1 460.5,700.9 467.1,698.8 466.1,697.6 465.3,695.3 454.6,694.2 430.6,695.9 415,698 403.3,700 379.7,705 367.5,707.9 381.2,707.4 401.1,706.1 417,705.3ZM445.6,701.6 445,701.6 439.3,701.1 424.8,700.5 427,698.9 430.1,697.3 433,696.8 435.4,696.6 447.5,697.6 445.8,700.3 446,701.5ZM266.2,723.5 268.2,724.4 296.6,719.6 310.6,716.5 317.6,714.3 288.9,716.3 268.3,718.1 256.5,719.3ZM483.7,694.1 498.6,693.1 489,689.6 486.3,690.1 479.4,692.2 470.9,694.5Z"/>
<path fill="#c40000" stroke="#c40000" stroke-width="0.9" stroke-linejoin="round" fill-rule="evenodd" d="M445.2,683.9 446.2,683.7 446,682.5 447.7,679.9 435.5,679 433.1,679.1 430.2,679.6 427.1,681.2 424.8,682.7 439.4,683.4Z"/>
<path d="M199.3,677L209.5,808.7M209.5,808.7L353.2,880.8M353.2,880.8L619.2,837.1" stroke="#111" stroke-width="1.3" fill="none"/>
<path d="M202.7,792.3L210.7,791.1M201.4,775.5L209.4,774.3M200.1,758.5L208.1,757.3M198.7,741.2L206.7,740M197.4,723.7L205.4,722.5M196,706L204,704.8M194.6,688.1L202.6,686.9" stroke="#111" stroke-width="1" fill="none"/>
<path d="M339.9,875.2L344,874.5M337.4,874L341.6,873.3M335,872.8L339.1,872.1M332.5,871.5L336.7,870.8M330.1,870.3L334.2,869.6M327.6,869.1L331.8,868.4M325.2,867.9L329.4,867.2M322.8,866.6L326.9,866M320.4,865.4L324.5,864.7M318,864.2L322.1,863.5M315.6,863L319.7,862.3M313.2,861.8L317.3,861.1M310.8,860.6L314.9,859.9M308.4,859.4L312.5,858.7M306,858.2L310.2,857.5M303.6,857L307.8,856.4M301.3,855.8L305.4,855.2M298.9,854.7L303.1,854M296.6,853.5L300.7,852.8M294.2,852.3L298.4,851.6M291.9,851.1L296,850.5M289.6,850L293.7,849.3M287.2,848.8L291.4,848.1M284.9,847.6L289.1,847M282.6,846.5L286.8,845.8M280.3,845.3L284.4,844.6M278,844.2L282.1,843.5M275.7,843L279.9,842.3M273.4,841.9L277.6,841.2M271.1,840.7L275.3,840M268.9,839.6L273,838.9M266.6,838.4L270.7,837.8M264.3,837.3L268.5,836.6M262.1,836.2L266.2,835.5M259.8,835L264,834.4M257.6,833.9L261.7,833.2M255.3,832.8L259.5,832.1M253.1,831.7L257.3,831M250.9,830.6L255,829.9M248.7,829.4L252.8,828.8M246.4,828.3L250.6,827.6M244.2,827.2L248.4,826.5M242,826.1L246.2,825.4M239.8,825L244,824.3M237.6,823.9L241.8,823.2M235.5,822.8L239.6,822.1M233.3,821.7L237.4,821M231.1,820.6L235.3,820M228.9,819.5L233.1,818.9M226.8,818.5L230.9,817.8M224.6,817.4L228.8,816.7M222.5,816.3L226.6,815.6M220.3,815.2L224.5,814.5M218.2,814.1L222.3,813.5M216,813.1L220.2,812.4M213.9,812L218.1,811.3" stroke="#2a2a2a" stroke-width="1.15" fill="none"/>
<path d="M368.8,876.7L373.3,879M399.1,871.8L403.6,874M429,866.8L433.5,869.1M458.6,862L463.1,864.2M487.8,857.2L492.2,859.4M516.6,852.5L521,854.7M545,847.8L549.5,850M573.2,843.1L577.6,845.4" stroke="#111" stroke-width="1" fill="none"/>
<text x="222.3" y="642.4" font-size="11.3" fill="#111" font-family="DejaVu Sans, Liberation Sans, sans-serif" textLength="364.6" lengthAdjust="spacingAndGlyphs" >3D-Mapping : Surface-Depth-Amplitude</text>
<text x="160.8" y="692.7" font-size="9.6" fill="#111" font-family="DejaVu Sans, Liberation Sans, sans-serif" textLength="17.8" lengthAdjust="spacingAndGlyphs" >35</text>
<text x="163.1" y="710.6" font-size="9.6" fill="#111" font-family="DejaVu Sans, Liberation Sans, sans-serif" textLength="17.8" lengthAdjust="spacingAndGlyphs" >30</text>
<text x="164.6" y="728.3" font-size="9.6" fill="#111" font-family="DejaVu Sans, Liberation Sans, sans-serif" textLength="17.8" lengthAdjust="spacingAndGlyphs" >25</text>
<text x="166.6" y="745.8" font-size="9.6" fill="#111" font-family="DejaVu Sans, Liberation Sans, sans-serif" textLength="17.8" lengthAdjust="spacingAndGlyphs" >20</text>
<text x="168.1" y="762.5" font-size="9.6" fill="#111" font-family="DejaVu Sans, Liberation Sans, sans-serif" textLength="17.8" lengthAdjust="spacingAndGlyphs" >15</text>
<text x="170.1" y="779.7" font-size="9.6" fill="#111" font-family="DejaVu Sans, Liberation Sans, sans-serif" textLength="17.8" lengthAdjust="spacingAndGlyphs" >10</text>
<text x="175.2" y="796.3" font-size="9.6" fill="#111" font-family="DejaVu Sans, Liberation Sans, sans-serif" textLength="8.9" lengthAdjust="spacingAndGlyphs" >5</text>
<text x="184" y="831.2" font-size="9.6" fill="#111" font-family="DejaVu Sans, Liberation Sans, sans-serif" textLength="26.7" lengthAdjust="spacingAndGlyphs" >500</text>
<text x="217.1" y="846.9" font-size="9.6" fill="#111" font-family="DejaVu Sans, Liberation Sans, sans-serif" textLength="26.7" lengthAdjust="spacingAndGlyphs" >400</text>
<text x="237.7" y="859" font-size="9.6" fill="#111" font-family="DejaVu Sans, Liberation Sans, sans-serif" textLength="26.7" lengthAdjust="spacingAndGlyphs" >300</text>
<text x="260.3" y="870.8" font-size="9.6" fill="#111" font-family="DejaVu Sans, Liberation Sans, sans-serif" textLength="26.7" lengthAdjust="spacingAndGlyphs" >200</text>
<text x="283.8" y="881.5" font-size="9.6" fill="#111" font-family="DejaVu Sans, Liberation Sans, sans-serif" textLength="26.7" lengthAdjust="spacingAndGlyphs" >100</text>
<text x="316.9" y="894.9" font-size="9.6" fill="#111" font-family="DejaVu Sans, Liberation Sans, sans-serif" textLength="8.9" lengthAdjust="spacingAndGlyphs" >1</text>
<text x="382.6" y="900" font-size="9.6" fill="#ff1a1a" font-family="DejaVu Sans, Liberation Sans, sans-serif" textLength="22.2" lengthAdjust="spacingAndGlyphs" >2.0</text>
<text x="411.4" y="895.3" font-size="9.6" fill="#ff1a1a" font-family="DejaVu Sans, Liberation Sans, sans-serif" textLength="22.2" lengthAdjust="spacingAndGlyphs" >3.0</text>
<text x="441.8" y="889.2" font-size="9.6" fill="#ff1a1a" font-family="DejaVu Sans, Liberation Sans, sans-serif" textLength="22.2" lengthAdjust="spacingAndGlyphs" >4.0</text>
<text x="470.6" y="885.8" font-size="9.6" fill="#ff1a1a" font-family="DejaVu Sans, Liberation Sans, sans-serif" textLength="22.2" lengthAdjust="spacingAndGlyphs" >5.0</text>
<text x="501.1" y="879" font-size="9.6" fill="#ff1a1a" font-family="DejaVu Sans, Liberation Sans, sans-serif" textLength="22.2" lengthAdjust="spacingAndGlyphs" >6.0</text>
<text x="529.9" y="876.3" font-size="9.6" fill="#ff1a1a" font-family="DejaVu Sans, Liberation Sans, sans-serif" textLength="22.2" lengthAdjust="spacingAndGlyphs" >7.0</text>
<text x="558.6" y="870.6" font-size="9.6" fill="#ff1a1a" font-family="DejaVu Sans, Liberation Sans, sans-serif" textLength="22.2" lengthAdjust="spacingAndGlyphs" >8.0</text>
<text x="586.4" y="867.2" font-size="9.6" fill="#ff1a1a" font-family="DejaVu Sans, Liberation Sans, sans-serif" textLength="22.2" lengthAdjust="spacingAndGlyphs" >9.0</text>
<text transform="translate(238.6,869.1) scale(1.6,1) rotate(38)" text-anchor="middle" y="3.4" font-size="9.8" fill="#111" font-family="DejaVu Sans, Liberation Sans, sans-serif">Depth (m)</text>
<text transform="translate(512.5,890.8) scale(1.6,1) rotate(-14.2)" text-anchor="middle" y="3.4" font-size="9.5" fill="#111" font-family="DejaVu Sans, Liberation Sans, sans-serif">Surface-X (m)</text>
<text transform="translate(145.6,740.9) scale(1.6,1) rotate(86.8)" text-anchor="middle" y="3.4" font-size="9.8" fill="#111" font-family="DejaVu Sans, Liberation Sans, sans-serif">Amplitude</text>
</svg>
</body></html>
